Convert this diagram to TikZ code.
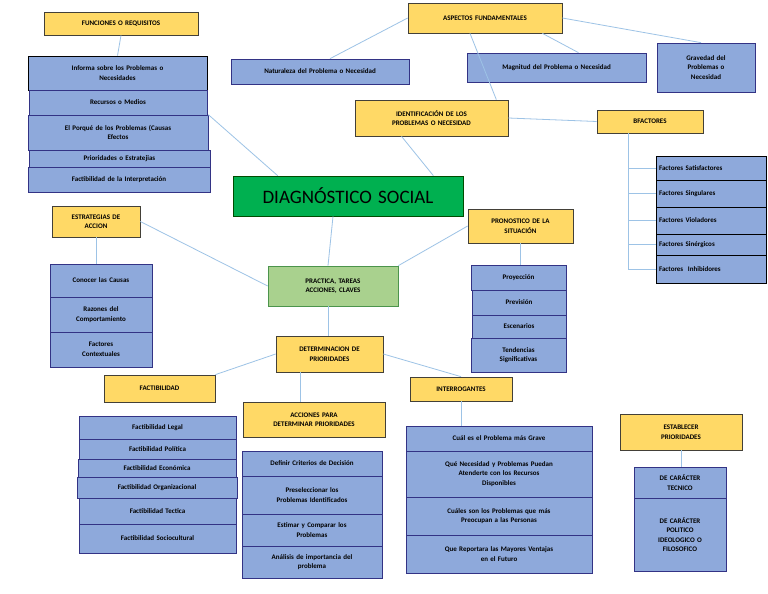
\documentclass[tikz,border=0pt]{standalone}
\usepackage{fontspec}
\setmainfont{Carlito}
\definecolor{yel}{HTML}{FFD966}
\definecolor{blu}{HTML}{8EA9DB}
\definecolor{grn}{HTML}{00B050}
\definecolor{lgr}{HTML}{A9D18E}
\definecolor{lin}{HTML}{9DC3E6}
\tikzset{
 base/.style={draw, inner sep=0pt, align=center, font=\bfseries\fontsize{7}{9.5}\selectfont, line width=0.7pt},
 ybox/.style={base, fill=yel, draw=black!75!yellow!60!black},
 bbox/.style={base, fill=blu, draw=blue!40!black!80},
 gbox/.style={base, fill=grn, draw=black!70!green, font=\fontsize{19}{22}\selectfont},
 lbox/.style={base, fill=lgr, draw=black!60!green!70},
 con/.style={draw=lin, line width=0.8pt}
}
\newcommand\bx[7]{%
 \pgfmathsetmacro\bw{#4-#2}\pgfmathsetmacro\bh{#5-#3}\pgfmathsetmacro\tw{#4-#2-6}%
 \pgfmathsetmacro\cx{(#2+#4)/2}\pgfmathsetmacro\cy{(#3+#5)/2}%
 \node[#6, minimum width=\bw pt, minimum height=\bh pt, text width=\tw pt] (#1) at (\cx,\cy) {#7};}
\begin{document}
\begin{tikzpicture}[x=1pt,y=-1pt]
\useasboundingbox[fill=white] (0,0) rectangle (768,594);
% yellow
\bx{fun}{44}{12}{198}{35}{ybox}{FUNCIONES O REQUISITOS}
\bx{asp}{408}{3}{562}{33}{ybox}{ASPECTOS FUNDAMENTALES}
\bx{ident}{355}{100}{508}{136}{ybox}{IDENTIFICACIÓN DE LOS\\PROBLEMAS O NECESIDAD}
\bx{bfac}{597}{110}{703}{133}{ybox}{BFACTORES}
\bx{estr}{52}{206}{140}{237}{ybox}{ESTRATEGIAS DE\\ACCION}
\bx{pron}{468}{209}{573}{243}{ybox}{PRONOSTICO DE LA\\SITUACIÓN}
\bx{det}{276}{336}{383}{372}{ybox}{DETERMINACION DE\\PRIORIDADES}
\bx{fact}{104}{375}{215}{402}{ybox}{FACTIBILIDAD}
\bx{acc}{243}{402}{385}{437}{ybox}{ACCIONES PARA\\DETERMINAR PRIORIDADES}
\bx{interr}{410}{377}{512}{401}{ybox}{INTERROGANTES}
\bx{estab}{620}{414}{742}{450}{ybox}{ESTABLECER\\PRIORIDADES}
% green
\bx{diag}{233}{176}{463}{216}{gbox}{DIAGNÓSTICO SOCIAL}
\bx{prac}{268}{266}{398}{306}{lbox}{PRACTICA, TAREAS\\ACCIONES, CLAVES}
% left column
\bx{l1}{28}{56}{207}{90}{bbox,draw=black}{Informa sobre los Problemas o\\Necesidades}
\bx{l2}{29}{90}{207}{115}{bbox}{Recursos o Medios}
\bx{l3}{28}{115}{208}{150}{bbox}{El Porqué de los Problemas (Causas\\Efectos}
\bx{l4}{29}{150}{210}{167}{bbox}{Prioridades o Estratejias}
\bx{l5}{28}{167}{210}{192}{bbox}{Factibilidad de la Interpretación}
\bx{nat}{231}{59}{409}{84}{bbox}{Naturaleza del Problema o Necesidad}
\bx{mag}{467}{53}{646}{82}{bbox}{Magnitud del Problema o Necesidad}
\bx{grav}{657}{43}{755}{92}{bbox}{Gravedad del\\Problemas o\\Necesidad}
% factores
\tikzset{fbox/.style={bbox,draw=black,align=left}}
\bx{f1}{656}{156}{766}{180}{fbox}{Factores Satisfactores}
\bx{f2}{656}{180}{766}{207}{fbox}{Factores Singulares}
\bx{f3}{656}{207}{766}{234}{fbox}{Factores Violadores}
\bx{f4}{656}{234}{766}{255}{fbox}{Factores Sinérgicos}
\bx{f5}{656}{255}{766}{283}{fbox}{Factores\ \ Inhibidores}
% estrategias
\bx{e1}{50}{264}{152}{297}{bbox}{Conocer las Causas}
\bx{e2}{50}{297}{152}{332}{bbox}{Razones del\\Comportamiento}
\bx{e3}{50}{332}{152}{367}{bbox}{Factores\\Contextuales}
% pronostico
\bx{p1}{471}{265}{566}{290}{bbox}{Proyección}
\bx{p2}{472}{290}{566}{315}{bbox}{Previsión}
\bx{p3}{472}{315}{566}{338}{bbox}{Escenarios}
\bx{p4}{471}{338}{566}{372}{bbox}{Tendencias\\Significativas}
% factibilidad
\bx{fa1}{79}{416}{236}{439}{bbox}{Factibilidad Legal}
\bx{fa2}{79}{439}{236}{459}{bbox}{Factibilidad Política}
\bx{fa3}{78}{459}{236}{477}{bbox}{Factibilidad Económica}
\bx{fa4}{77}{477}{237}{498}{bbox}{Factibilidad Organizacional}
\bx{fa5}{79}{498}{236}{524}{bbox}{Factibilidad Tectica}
\bx{fa6}{79}{524}{236}{553}{bbox}{Factibilidad Sociocultural}
% acciones
\bx{a1}{242}{451}{382}{476}{bbox}{Definir Criterios de Decisión}
\bx{a2}{242}{476}{382}{514}{bbox}{Preseleccionar los\\Problemas Identificados}
\bx{a3}{242}{514}{382}{546}{bbox}{Estimar y Comparar los\\Problemas}
\bx{a4}{242}{546}{382}{578}{bbox}{Análisis de importancia del\\problema}
% interrogantes
\bx{i1}{406}{426}{592}{451}{bbox}{Cuál es el Problema más Grave}
\bx{i2}{406}{451}{592}{497}{bbox}{Qué Necesidad y Problemas Puedan\\Atenderte con los Recursos\\Disponibles}
\bx{i3}{406}{497}{592}{535}{bbox}{Cuáles son los Problemas que más\\Preocupan a las Personas}
\bx{i4}{406}{535}{592}{573}{bbox}{Que Reportara las Mayores Ventajas\\en el Futuro}
% establecer
\bx{s1}{634}{467}{726}{498}{bbox}{DE CARÁCTER\\TECNICO}
\bx{s2}{634}{498}{726}{571}{bbox}{DE CARÁCTER\\POLITICO\\IDEOLOGICO O\\FILOSOFICO}
% connectors
\draw[con] (fun.south) -- (l1.north);
\draw[con] (l3.north east) -- ([xshift=45pt]diag.north west);
\draw[con] (asp.west) -- ([xshift=10pt]nat.north);
\draw[con] ([xshift=-20pt]asp.south east) -- ([xshift=22pt]mag.north);
\draw[con] (asp.east) -- ([xshift=-5pt]grav.north);
\draw[con] ([xshift=-15pt]asp.south) -- ([xshift=-12pt]ident.north east);
\draw[con] ([xshift=-30pt]ident.south) -- ([xshift=-30pt]diag.north east);
\draw[con] (ident.east) -- (bfac.west);
\coordinate (bt) at ([xshift=-22pt]bfac.south);
\draw[con] (bt) -- (bt |- f5.center);
\foreach \f in {f1,f2,f3,f4,f5} \draw[con] (bt |- \f.center) -- (\f.west);
\draw[con] ([xshift=-15pt]diag.south) -- ([xshift=-5pt]prac.north);
\draw[con] (estr.east) -- (prac.west);
\draw[con] (pron.west) -- (prac.north east);
\draw[con] (pron.south) -- (pron.south |- p1.north);
\draw[con] (estr.south) -- (estr.south |- e1.north);
\draw[con] ([xshift=-5pt]prac.south) -- ([xshift=-5pt]prac.south |- det.north);
\draw[con] (det.west) -- (fact.north east);
\draw[con] ([xshift=-29pt]det.south) -- ([xshift=-29pt]det.south |- acc.north);
\draw[con] (det.east) -- (interr.north);
\draw[con] (interr.south) -- (interr.south |- i1.north);
\draw[con] (estab.south) -- (estab.south |- s1.north);
\end{tikzpicture}
\end{document}
